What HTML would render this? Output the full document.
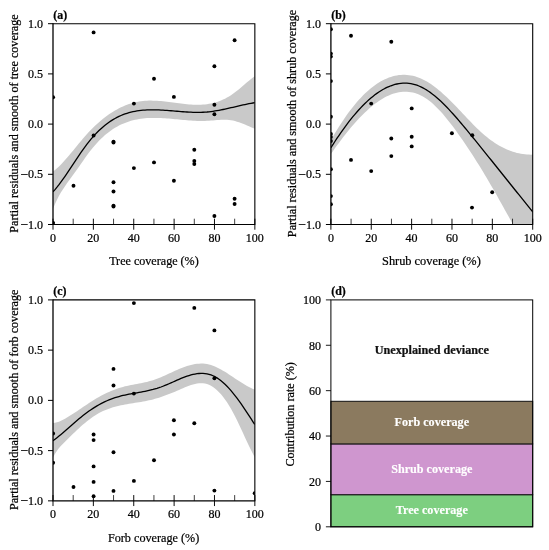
<!DOCTYPE html>
<html lang="en"><head><meta charset="utf-8"><title>Figure</title>
<style>html,body{margin:0;padding:0;background:#fff;}svg{display:block;}</style>
</head><body>
<svg width="549" height="550" viewBox="0 0 549 550" font-family='"Liberation Serif", "DejaVu Serif", serif'>
<rect width="549" height="550" fill="#fff"/>
<style>text{stroke:#000;stroke-width:0.22px;paint-order:stroke;} text.w{stroke:#fff;stroke-width:0.15px;}</style>
<clipPath id="clip1"><rect x="53.0" y="23.7" width="201.85" height="200.8"/></clipPath>
<path d="M53.00,171.52 L55.00,169.97 L57.00,168.26 L59.00,166.40 L61.00,164.41 L63.00,162.31 L65.00,160.10 L67.00,157.82 L69.00,155.47 L71.00,153.07 L73.00,150.64 L75.00,148.19 L77.00,145.73 L79.00,143.29 L81.00,140.88 L83.00,138.51 L85.00,136.20 L87.00,133.97 L89.00,131.82 L91.00,129.74 L93.00,127.73 L95.00,125.81 L97.00,123.95 L99.00,122.17 L101.00,120.47 L103.00,118.83 L105.00,117.27 L107.00,115.79 L109.00,114.37 L111.00,113.03 L113.00,111.75 L115.00,110.55 L117.00,109.42 L119.00,108.36 L121.00,107.37 L123.00,106.45 L125.00,105.60 L127.00,104.81 L129.00,104.10 L131.00,103.45 L133.00,102.88 L135.00,102.37 L137.00,101.92 L139.00,101.55 L141.00,101.24 L143.00,101.00 L145.00,100.82 L147.00,100.69 L149.00,100.62 L151.00,100.60 L153.00,100.63 L155.00,100.69 L157.00,100.80 L159.00,100.94 L161.00,101.10 L163.00,101.30 L165.00,101.52 L167.00,101.75 L169.00,102.00 L171.00,102.26 L173.00,102.52 L175.00,102.79 L177.00,103.06 L179.00,103.32 L181.00,103.57 L183.00,103.80 L185.00,104.02 L187.00,104.22 L189.00,104.39 L191.00,104.54 L193.00,104.65 L195.00,104.72 L197.00,104.75 L199.00,104.74 L201.00,104.68 L203.00,104.56 L205.00,104.39 L207.00,104.15 L209.00,103.86 L211.00,103.49 L213.00,103.05 L215.00,102.53 L217.00,101.94 L219.00,101.25 L221.00,100.48 L223.00,99.62 L225.00,98.67 L227.00,97.61 L229.00,96.45 L231.00,95.19 L233.00,93.82 L235.00,92.34 L237.00,90.78 L239.00,89.15 L241.00,87.48 L243.00,85.77 L245.00,84.06 L247.00,82.36 L249.00,80.69 L251.00,79.06 L253.00,77.50 L254.70,76.24 L254.70,128.75 L253.00,128.02 L251.00,127.15 L249.00,126.27 L247.00,125.40 L245.00,124.55 L243.00,123.74 L241.00,122.98 L239.00,122.27 L237.00,121.63 L235.00,121.08 L233.00,120.62 L231.00,120.27 L229.00,120.02 L227.00,119.87 L225.00,119.80 L223.00,119.80 L221.00,119.85 L219.00,119.95 L217.00,120.08 L215.00,120.24 L213.00,120.40 L211.00,120.56 L209.00,120.70 L207.00,120.82 L205.00,120.90 L203.00,120.95 L201.00,120.96 L199.00,120.93 L197.00,120.88 L195.00,120.80 L193.00,120.69 L191.00,120.57 L189.00,120.42 L187.00,120.27 L185.00,120.09 L183.00,119.91 L181.00,119.72 L179.00,119.53 L177.00,119.33 L175.00,119.14 L173.00,118.95 L171.00,118.76 L169.00,118.59 L167.00,118.43 L165.00,118.28 L163.00,118.15 L161.00,118.04 L159.00,117.96 L157.00,117.90 L155.00,117.88 L153.00,117.88 L151.00,117.92 L149.00,118.00 L147.00,118.11 L145.00,118.27 L143.00,118.48 L141.00,118.74 L139.00,119.04 L137.00,119.40 L135.00,119.82 L133.00,120.30 L131.00,120.85 L129.00,121.45 L127.00,122.13 L125.00,122.88 L123.00,123.70 L121.00,124.61 L119.00,125.60 L117.00,126.67 L115.00,127.83 L113.00,129.09 L111.00,130.44 L109.00,131.89 L107.00,133.44 L105.00,135.10 L103.00,136.88 L101.00,138.76 L99.00,140.76 L97.00,142.88 L95.00,145.13 L93.00,147.50 L91.00,150.00 L89.00,152.61 L87.00,155.31 L85.00,158.09 L83.00,160.91 L81.00,163.77 L79.00,166.64 L77.00,169.50 L75.00,172.33 L73.00,175.12 L71.00,177.86 L69.00,180.58 L67.00,183.33 L65.00,186.16 L63.00,189.14 L61.00,192.33 L59.00,195.81 L57.00,199.66 L55.00,203.95 L53.00,208.76 Z" fill="#c9c9c9" clip-path="url(#clip1)"/>
<path d="M53.00,191.80 L55.00,189.57 L57.00,187.18 L59.00,184.64 L61.00,181.98 L63.00,179.21 L65.00,176.34 L67.00,173.41 L69.00,170.42 L71.00,167.40 L73.00,164.35 L75.00,161.31 L77.00,158.29 L79.00,155.31 L81.00,152.39 L83.00,149.53 L85.00,146.78 L87.00,144.13 L89.00,141.59 L91.00,139.16 L93.00,136.84 L95.00,134.63 L97.00,132.53 L99.00,130.54 L101.00,128.66 L103.00,126.89 L105.00,125.23 L107.00,123.67 L109.00,122.22 L111.00,120.87 L113.00,119.62 L115.00,118.46 L117.00,117.40 L119.00,116.42 L121.00,115.52 L123.00,114.71 L125.00,113.97 L127.00,113.30 L129.00,112.71 L131.00,112.18 L133.00,111.72 L135.00,111.31 L137.00,110.97 L139.00,110.67 L141.00,110.42 L143.00,110.22 L145.00,110.07 L147.00,109.95 L149.00,109.87 L151.00,109.83 L153.00,109.82 L155.00,109.84 L157.00,109.89 L159.00,109.96 L161.00,110.05 L163.00,110.16 L165.00,110.29 L167.00,110.43 L169.00,110.59 L171.00,110.75 L173.00,110.91 L175.00,111.08 L177.00,111.25 L179.00,111.42 L181.00,111.58 L183.00,111.74 L185.00,111.88 L187.00,112.01 L189.00,112.12 L191.00,112.22 L193.00,112.29 L195.00,112.34 L197.00,112.36 L199.00,112.36 L201.00,112.32 L203.00,112.24 L205.00,112.13 L207.00,111.98 L209.00,111.78 L211.00,111.55 L213.00,111.28 L215.00,110.98 L217.00,110.64 L219.00,110.28 L221.00,109.90 L223.00,109.50 L225.00,109.07 L227.00,108.64 L229.00,108.19 L231.00,107.73 L233.00,107.27 L235.00,106.80 L237.00,106.33 L239.00,105.87 L241.00,105.42 L243.00,104.97 L245.00,104.54 L247.00,104.12 L249.00,103.72 L251.00,103.34 L253.00,102.99 L254.70,102.71" fill="none" stroke="#000" stroke-width="1.3" stroke-linejoin="round" clip-path="url(#clip1)"/>
<circle cx="93.6" cy="32.4" r="1.95" fill="#000" clip-path="url(#clip1)"/>
<circle cx="53.1" cy="97.2" r="1.95" fill="#000" clip-path="url(#clip1)"/>
<circle cx="133.9" cy="103.6" r="1.95" fill="#000" clip-path="url(#clip1)"/>
<circle cx="93.6" cy="135.5" r="1.95" fill="#000" clip-path="url(#clip1)"/>
<circle cx="113.5" cy="141.6" r="1.95" fill="#000" clip-path="url(#clip1)"/>
<circle cx="113.5" cy="142.6" r="1.95" fill="#000" clip-path="url(#clip1)"/>
<circle cx="133.9" cy="168.1" r="1.95" fill="#000" clip-path="url(#clip1)"/>
<circle cx="73.5" cy="185.7" r="1.95" fill="#000" clip-path="url(#clip1)"/>
<circle cx="113.5" cy="182.3" r="1.95" fill="#000" clip-path="url(#clip1)"/>
<circle cx="113.5" cy="191.5" r="1.95" fill="#000" clip-path="url(#clip1)"/>
<circle cx="113.5" cy="205.6" r="1.95" fill="#000" clip-path="url(#clip1)"/>
<circle cx="113.5" cy="206.6" r="1.95" fill="#000" clip-path="url(#clip1)"/>
<circle cx="53.1" cy="222.9" r="1.95" fill="#000" clip-path="url(#clip1)"/>
<circle cx="234.6" cy="40.3" r="1.95" fill="#000" clip-path="url(#clip1)"/>
<circle cx="214.4" cy="66.3" r="1.95" fill="#000" clip-path="url(#clip1)"/>
<circle cx="154.0" cy="78.8" r="1.95" fill="#000" clip-path="url(#clip1)"/>
<circle cx="173.9" cy="96.9" r="1.95" fill="#000" clip-path="url(#clip1)"/>
<circle cx="214.4" cy="104.8" r="1.95" fill="#000" clip-path="url(#clip1)"/>
<circle cx="214.4" cy="114.3" r="1.95" fill="#000" clip-path="url(#clip1)"/>
<circle cx="194.3" cy="149.7" r="1.95" fill="#000" clip-path="url(#clip1)"/>
<circle cx="194.3" cy="160.9" r="1.95" fill="#000" clip-path="url(#clip1)"/>
<circle cx="194.3" cy="164.0" r="1.95" fill="#000" clip-path="url(#clip1)"/>
<circle cx="154.0" cy="162.4" r="1.95" fill="#000" clip-path="url(#clip1)"/>
<circle cx="173.9" cy="180.8" r="1.95" fill="#000" clip-path="url(#clip1)"/>
<circle cx="234.6" cy="198.7" r="1.95" fill="#000" clip-path="url(#clip1)"/>
<circle cx="234.6" cy="204.0" r="1.95" fill="#000" clip-path="url(#clip1)"/>
<circle cx="214.4" cy="216.0" r="1.95" fill="#000" clip-path="url(#clip1)"/>
<path d="M53.0,23.7 H254.85 V224.5" fill="none" stroke="#000" stroke-width="1.1"/>
<path d="M53.0,23.3 V224.5" fill="none" stroke="#000" stroke-width="1.3"/>
<path d="M52.4,224.5 H255.25" fill="none" stroke="#000" stroke-width="1.1"/>
<line x1="53.00" y1="229.7" x2="53.00" y2="218.7" stroke="#000" stroke-width="0.95"/>
<text x="53.00" y="241.80" font-size="12.0" text-anchor="middle" fill="#000">0</text>
<line x1="73.19" y1="224.5" x2="73.19" y2="218.7" stroke="#000" stroke-width="0.75"/>
<line x1="93.37" y1="229.7" x2="93.37" y2="218.7" stroke="#000" stroke-width="0.95"/>
<text x="93.37" y="241.80" font-size="12.0" text-anchor="middle" fill="#000">20</text>
<line x1="113.55" y1="224.5" x2="113.55" y2="218.7" stroke="#000" stroke-width="0.75"/>
<line x1="133.74" y1="229.7" x2="133.74" y2="218.7" stroke="#000" stroke-width="0.95"/>
<text x="133.74" y="241.80" font-size="12.0" text-anchor="middle" fill="#000">40</text>
<line x1="153.93" y1="224.5" x2="153.93" y2="218.7" stroke="#000" stroke-width="0.75"/>
<line x1="174.11" y1="229.7" x2="174.11" y2="218.7" stroke="#000" stroke-width="0.95"/>
<text x="174.11" y="241.80" font-size="12.0" text-anchor="middle" fill="#000">60</text>
<line x1="194.30" y1="224.5" x2="194.30" y2="218.7" stroke="#000" stroke-width="0.75"/>
<line x1="214.48" y1="229.7" x2="214.48" y2="218.7" stroke="#000" stroke-width="0.95"/>
<text x="214.48" y="241.80" font-size="12.0" text-anchor="middle" fill="#000">80</text>
<line x1="234.66" y1="224.5" x2="234.66" y2="218.7" stroke="#000" stroke-width="0.75"/>
<line x1="254.85" y1="229.7" x2="254.85" y2="218.7" stroke="#000" stroke-width="0.95"/>
<text x="254.85" y="241.80" font-size="12.0" text-anchor="middle" fill="#000">100</text>
<line x1="53.0" y1="23.70" x2="48.0" y2="23.70" stroke="#000" stroke-width="1"/>
<text x="43.10" y="27.70" font-size="12.0" text-anchor="end" fill="#000">1.0</text>
<line x1="53.0" y1="73.90" x2="48.0" y2="73.90" stroke="#000" stroke-width="1"/>
<text x="43.10" y="77.90" font-size="12.0" text-anchor="end" fill="#000">0.5</text>
<line x1="53.0" y1="124.10" x2="48.0" y2="124.10" stroke="#000" stroke-width="1"/>
<text x="43.10" y="128.10" font-size="12.0" text-anchor="end" fill="#000">0.0</text>
<line x1="53.0" y1="174.30" x2="48.0" y2="174.30" stroke="#000" stroke-width="1"/>
<text x="43.10" y="178.30" font-size="12.0" text-anchor="end" fill="#000"><tspan font-size="13.6" dy="0.5">−</tspan><tspan dy="-0.5">0.5</tspan></text>
<line x1="53.0" y1="224.50" x2="48.0" y2="224.50" stroke="#000" stroke-width="1"/>
<text x="43.10" y="228.50" font-size="12.0" text-anchor="end" fill="#000"><tspan font-size="13.6" dy="0.5">−</tspan><tspan dy="-0.5">1.0</tspan></text>
<text x="53.30" y="18.60" font-size="11.9" font-weight="bold" fill="#000">(a)</text>
<text transform="translate(18.10,123.50) rotate(-90)" font-size="12.15" text-anchor="middle" fill="#000">Partial residuals and smooth of tree coverage</text>
<text x="153.93" y="265.30" font-size="12.1" text-anchor="middle" fill="#000">Tree coverage (%)</text>
<clipPath id="clip2"><rect x="330.9" y="23.7" width="201.80000000000007" height="200.8"/></clipPath>
<path d="M330.90,140.28 L332.90,136.76 L334.90,133.35 L336.90,130.03 L338.90,126.80 L340.90,123.67 L342.90,120.64 L344.90,117.70 L346.90,114.85 L348.90,112.11 L350.90,109.46 L352.90,106.90 L354.90,104.45 L356.90,102.09 L358.90,99.82 L360.90,97.66 L362.90,95.59 L364.90,93.61 L366.90,91.74 L368.90,89.96 L370.90,88.28 L372.90,86.70 L374.90,85.22 L376.90,83.83 L378.90,82.55 L380.90,81.36 L382.90,80.27 L384.90,79.28 L386.90,78.38 L388.90,77.59 L390.90,76.90 L392.90,76.30 L394.90,75.81 L396.90,75.41 L398.90,75.12 L400.90,74.92 L402.90,74.82 L404.90,74.83 L406.90,74.93 L408.90,75.14 L410.90,75.45 L412.90,75.85 L414.90,76.36 L416.90,76.97 L418.90,77.68 L420.90,78.49 L422.90,79.40 L424.90,80.42 L426.90,81.54 L428.90,82.75 L430.90,84.06 L432.90,85.46 L434.90,86.95 L436.90,88.51 L438.90,90.15 L440.90,91.86 L442.90,93.63 L444.90,95.46 L446.90,97.34 L448.90,99.27 L450.90,101.24 L452.90,103.25 L454.90,105.30 L456.90,107.36 L458.90,109.45 L460.90,111.56 L462.90,113.68 L464.90,115.80 L466.90,117.91 L468.90,120.01 L470.90,122.09 L472.90,124.14 L474.90,126.16 L476.90,128.13 L478.90,130.05 L480.90,131.92 L482.90,133.71 L484.90,135.43 L486.90,137.08 L488.90,138.65 L490.90,140.15 L492.90,141.57 L494.90,142.92 L496.90,144.20 L498.90,145.40 L500.90,146.52 L502.90,147.57 L504.90,148.55 L506.90,149.45 L508.90,150.29 L510.90,151.04 L512.90,151.73 L514.90,152.34 L516.90,152.88 L518.90,153.35 L520.90,153.74 L522.90,154.06 L524.90,154.31 L526.90,154.49 L528.90,154.60 L530.90,154.63 L532.90,154.60 L533.00,154.59 L533.00,260.02 L532.90,259.85 L530.90,256.39 L528.90,252.90 L526.90,249.38 L524.90,245.84 L522.90,242.28 L520.90,238.71 L518.90,235.12 L516.90,231.52 L514.90,227.92 L512.90,224.31 L510.90,220.70 L508.90,217.09 L506.90,213.48 L504.90,209.88 L502.90,206.30 L500.90,202.72 L498.90,199.16 L496.90,195.62 L494.90,192.10 L492.90,188.61 L490.90,185.14 L488.90,181.71 L486.90,178.31 L484.90,174.94 L482.90,171.62 L480.90,168.34 L478.90,165.09 L476.90,161.89 L474.90,158.73 L472.90,155.62 L470.90,152.54 L468.90,149.50 L466.90,146.50 L464.90,143.54 L462.90,140.62 L460.90,137.73 L458.90,134.89 L456.90,132.09 L454.90,129.33 L452.90,126.62 L450.90,123.98 L448.90,121.40 L446.90,118.89 L444.90,116.46 L442.90,114.11 L440.90,111.85 L438.90,109.69 L436.90,107.63 L434.90,105.67 L432.90,103.83 L430.90,102.11 L428.90,100.51 L426.90,99.05 L424.90,97.72 L422.90,96.53 L420.90,95.48 L418.90,94.56 L416.90,93.77 L414.90,93.11 L412.90,92.58 L410.90,92.18 L408.90,91.90 L406.90,91.74 L404.90,91.70 L402.90,91.77 L400.90,91.96 L398.90,92.26 L396.90,92.68 L394.90,93.20 L392.90,93.82 L390.90,94.55 L388.90,95.39 L386.90,96.32 L384.90,97.35 L382.90,98.47 L380.90,99.69 L378.90,100.99 L376.90,102.39 L374.90,103.87 L372.90,105.44 L370.90,107.09 L368.90,108.82 L366.90,110.63 L364.90,112.51 L362.90,114.46 L360.90,116.49 L358.90,118.59 L356.90,120.75 L354.90,122.98 L352.90,125.27 L350.90,127.62 L348.90,130.03 L346.90,132.50 L344.90,135.02 L342.90,137.59 L340.90,140.21 L338.90,142.88 L336.90,145.60 L334.90,148.35 L332.90,151.15 L330.90,153.99 Z" fill="#c9c9c9" clip-path="url(#clip2)"/>
<path d="M330.90,147.75 L332.90,144.60 L334.90,141.51 L336.90,138.48 L338.90,135.52 L340.90,132.62 L342.90,129.79 L344.90,127.03 L346.90,124.34 L348.90,121.72 L350.90,119.18 L352.90,116.71 L354.90,114.31 L356.90,112.00 L358.90,109.76 L360.90,107.60 L362.90,105.52 L364.90,103.53 L366.90,101.62 L368.90,99.80 L370.90,98.06 L372.90,96.41 L374.90,94.85 L376.90,93.38 L378.90,92.01 L380.90,90.72 L382.90,89.54 L384.90,88.45 L386.90,87.45 L388.90,86.56 L390.90,85.77 L392.90,85.08 L394.90,84.49 L396.90,84.00 L398.90,83.63 L400.90,83.36 L402.90,83.20 L404.90,83.15 L406.90,83.21 L408.90,83.38 L410.90,83.67 L412.90,84.07 L414.90,84.59 L416.90,85.23 L418.90,85.99 L420.90,86.86 L422.90,87.85 L424.90,88.96 L426.90,90.17 L428.90,91.48 L430.90,92.90 L432.90,94.41 L434.90,96.01 L436.90,97.70 L438.90,99.48 L440.90,101.33 L442.90,103.26 L444.90,105.25 L446.90,107.30 L448.90,109.41 L450.90,111.57 L452.90,113.77 L454.90,116.02 L456.90,118.30 L458.90,120.62 L460.90,122.97 L462.90,125.35 L464.90,127.75 L466.90,130.17 L468.90,132.60 L470.90,135.05 L472.90,137.50 L474.90,139.95 L476.90,142.42 L478.90,144.89 L480.90,147.36 L482.90,149.84 L484.90,152.32 L486.90,154.80 L488.90,157.29 L490.90,159.78 L492.90,162.27 L494.90,164.77 L496.90,167.26 L498.90,169.76 L500.90,172.26 L502.90,174.76 L504.90,177.26 L506.90,179.75 L508.90,182.25 L510.90,184.75 L512.90,187.24 L514.90,189.74 L516.90,192.23 L518.90,194.71 L520.90,197.20 L522.90,199.68 L524.90,202.16 L526.90,204.63 L528.90,207.10 L530.90,209.56 L532.90,212.02 L533.00,212.14" fill="none" stroke="#000" stroke-width="1.3" stroke-linejoin="round" clip-path="url(#clip2)"/>
<circle cx="330.9" cy="29.3" r="1.95" fill="#000" clip-path="url(#clip2)"/>
<circle cx="351.0" cy="35.7" r="1.95" fill="#000" clip-path="url(#clip2)"/>
<circle cx="391.3" cy="41.8" r="1.95" fill="#000" clip-path="url(#clip2)"/>
<circle cx="330.9" cy="53.6" r="1.95" fill="#000" clip-path="url(#clip2)"/>
<circle cx="330.9" cy="56.6" r="1.95" fill="#000" clip-path="url(#clip2)"/>
<circle cx="330.9" cy="81.1" r="1.95" fill="#000" clip-path="url(#clip2)"/>
<circle cx="371.2" cy="103.6" r="1.95" fill="#000" clip-path="url(#clip2)"/>
<circle cx="411.7" cy="108.4" r="1.95" fill="#000" clip-path="url(#clip2)"/>
<circle cx="330.9" cy="116.8" r="1.95" fill="#000" clip-path="url(#clip2)"/>
<circle cx="330.9" cy="133.9" r="1.95" fill="#000" clip-path="url(#clip2)"/>
<circle cx="330.9" cy="137.0" r="1.95" fill="#000" clip-path="url(#clip2)"/>
<circle cx="330.9" cy="141.0" r="1.95" fill="#000" clip-path="url(#clip2)"/>
<circle cx="391.3" cy="138.5" r="1.95" fill="#000" clip-path="url(#clip2)"/>
<circle cx="411.7" cy="136.7" r="1.95" fill="#000" clip-path="url(#clip2)"/>
<circle cx="411.7" cy="146.4" r="1.95" fill="#000" clip-path="url(#clip2)"/>
<circle cx="351.0" cy="159.9" r="1.95" fill="#000" clip-path="url(#clip2)"/>
<circle cx="391.3" cy="156.1" r="1.95" fill="#000" clip-path="url(#clip2)"/>
<circle cx="371.2" cy="171.1" r="1.95" fill="#000" clip-path="url(#clip2)"/>
<circle cx="330.9" cy="169.3" r="1.95" fill="#000" clip-path="url(#clip2)"/>
<circle cx="330.9" cy="196.1" r="1.95" fill="#000" clip-path="url(#clip2)"/>
<circle cx="330.9" cy="204.3" r="1.95" fill="#000" clip-path="url(#clip2)"/>
<circle cx="451.9" cy="133.2" r="1.95" fill="#000" clip-path="url(#clip2)"/>
<circle cx="472.3" cy="135.2" r="1.95" fill="#000" clip-path="url(#clip2)"/>
<circle cx="492.2" cy="192.3" r="1.95" fill="#000" clip-path="url(#clip2)"/>
<circle cx="472.0" cy="207.6" r="1.95" fill="#000" clip-path="url(#clip2)"/>
<path d="M330.9,23.7 H532.7 V224.5" fill="none" stroke="#000" stroke-width="1.1"/>
<path d="M330.9,23.3 V224.5" fill="none" stroke="#000" stroke-width="1.3"/>
<path d="M330.29999999999995,224.5 H533.1" fill="none" stroke="#000" stroke-width="1.1"/>
<line x1="330.90" y1="229.7" x2="330.90" y2="218.7" stroke="#000" stroke-width="0.95"/>
<text x="330.90" y="241.80" font-size="12.0" text-anchor="middle" fill="#000">0</text>
<line x1="351.08" y1="224.5" x2="351.08" y2="218.7" stroke="#000" stroke-width="0.75"/>
<line x1="371.26" y1="229.7" x2="371.26" y2="218.7" stroke="#000" stroke-width="0.95"/>
<text x="371.26" y="241.80" font-size="12.0" text-anchor="middle" fill="#000">20</text>
<line x1="391.44" y1="224.5" x2="391.44" y2="218.7" stroke="#000" stroke-width="0.75"/>
<line x1="411.62" y1="229.7" x2="411.62" y2="218.7" stroke="#000" stroke-width="0.95"/>
<text x="411.62" y="241.80" font-size="12.0" text-anchor="middle" fill="#000">40</text>
<line x1="431.80" y1="224.5" x2="431.80" y2="218.7" stroke="#000" stroke-width="0.75"/>
<line x1="451.98" y1="229.7" x2="451.98" y2="218.7" stroke="#000" stroke-width="0.95"/>
<text x="451.98" y="241.80" font-size="12.0" text-anchor="middle" fill="#000">60</text>
<line x1="472.16" y1="224.5" x2="472.16" y2="218.7" stroke="#000" stroke-width="0.75"/>
<line x1="492.34" y1="229.7" x2="492.34" y2="218.7" stroke="#000" stroke-width="0.95"/>
<text x="492.34" y="241.80" font-size="12.0" text-anchor="middle" fill="#000">80</text>
<line x1="512.52" y1="224.5" x2="512.52" y2="218.7" stroke="#000" stroke-width="0.75"/>
<line x1="532.70" y1="229.7" x2="532.70" y2="218.7" stroke="#000" stroke-width="0.95"/>
<text x="532.70" y="241.80" font-size="12.0" text-anchor="middle" fill="#000">100</text>
<line x1="330.9" y1="23.70" x2="325.9" y2="23.70" stroke="#000" stroke-width="1"/>
<text x="321.00" y="27.70" font-size="12.0" text-anchor="end" fill="#000">1.0</text>
<line x1="330.9" y1="73.90" x2="325.9" y2="73.90" stroke="#000" stroke-width="1"/>
<text x="321.00" y="77.90" font-size="12.0" text-anchor="end" fill="#000">0.5</text>
<line x1="330.9" y1="124.10" x2="325.9" y2="124.10" stroke="#000" stroke-width="1"/>
<text x="321.00" y="128.10" font-size="12.0" text-anchor="end" fill="#000">0.0</text>
<line x1="330.9" y1="174.30" x2="325.9" y2="174.30" stroke="#000" stroke-width="1"/>
<text x="321.00" y="178.30" font-size="12.0" text-anchor="end" fill="#000"><tspan font-size="13.6" dy="0.5">−</tspan><tspan dy="-0.5">0.5</tspan></text>
<line x1="330.9" y1="224.50" x2="325.9" y2="224.50" stroke="#000" stroke-width="1"/>
<text x="321.00" y="228.50" font-size="12.0" text-anchor="end" fill="#000"><tspan font-size="13.6" dy="0.5">−</tspan><tspan dy="-0.5">1.0</tspan></text>
<text x="331.20" y="18.60" font-size="11.9" font-weight="bold" fill="#000">(b)</text>
<text transform="translate(296.00,123.50) rotate(-90)" font-size="12.15" text-anchor="middle" fill="#000">Partial residuals and smooth of shrub coverage</text>
<text x="431.40" y="265.30" font-size="12.35" text-anchor="middle" fill="#000">Shrub coverage (%)</text>
<clipPath id="clip3"><rect x="53.0" y="299.9" width="201.85" height="200.95000000000005"/></clipPath>
<path d="M53.00,423.05 L55.00,422.81 L57.00,422.32 L59.00,421.63 L61.00,420.76 L63.00,419.76 L65.00,418.66 L67.00,417.51 L69.00,416.30 L71.00,415.06 L73.00,413.78 L75.00,412.47 L77.00,411.14 L79.00,409.79 L81.00,408.44 L83.00,407.08 L85.00,405.73 L87.00,404.39 L89.00,403.07 L91.00,401.77 L93.00,400.51 L95.00,399.28 L97.00,398.09 L99.00,396.95 L101.00,395.86 L103.00,394.81 L105.00,393.81 L107.00,392.85 L109.00,391.94 L111.00,391.08 L113.00,390.26 L115.00,389.49 L117.00,388.77 L119.00,388.10 L121.00,387.47 L123.00,386.89 L125.00,386.36 L127.00,385.88 L129.00,385.44 L131.00,385.03 L133.00,384.64 L135.00,384.27 L137.00,383.90 L139.00,383.54 L141.00,383.16 L143.00,382.76 L145.00,382.34 L147.00,381.88 L149.00,381.37 L151.00,380.81 L153.00,380.19 L155.00,379.51 L157.00,378.77 L159.00,377.99 L161.00,377.16 L163.00,376.30 L165.00,375.41 L167.00,374.51 L169.00,373.60 L171.00,372.68 L173.00,371.77 L175.00,370.86 L177.00,369.98 L179.00,369.12 L181.00,368.30 L183.00,367.52 L185.00,366.79 L187.00,366.11 L189.00,365.49 L191.00,364.95 L193.00,364.48 L195.00,364.10 L197.00,363.82 L199.00,363.63 L201.00,363.55 L203.00,363.59 L205.00,363.74 L207.00,364.03 L209.00,364.46 L211.00,365.02 L213.00,365.71 L215.00,366.51 L217.00,367.41 L219.00,368.41 L221.00,369.49 L223.00,370.64 L225.00,371.85 L227.00,373.11 L229.00,374.40 L231.00,375.73 L233.00,377.06 L235.00,378.41 L237.00,379.74 L239.00,381.06 L241.00,382.36 L243.00,383.61 L245.00,384.81 L247.00,385.96 L249.00,387.03 L251.00,388.01 L253.00,388.91 L254.70,389.58 L254.70,457.21 L253.00,454.01 L251.00,450.05 L249.00,445.94 L247.00,441.71 L245.00,437.42 L243.00,433.09 L241.00,428.78 L239.00,424.52 L237.00,420.36 L235.00,416.33 L233.00,412.49 L231.00,408.86 L229.00,405.47 L227.00,402.33 L225.00,399.42 L223.00,396.75 L221.00,394.33 L219.00,392.14 L217.00,390.19 L215.00,388.49 L213.00,387.03 L211.00,385.80 L209.00,384.82 L207.00,384.08 L205.00,383.58 L203.00,383.29 L201.00,383.19 L199.00,383.27 L197.00,383.51 L195.00,383.90 L193.00,384.41 L191.00,385.02 L189.00,385.72 L187.00,386.50 L185.00,387.32 L183.00,388.18 L181.00,389.06 L179.00,389.93 L177.00,390.79 L175.00,391.64 L173.00,392.47 L171.00,393.29 L169.00,394.08 L167.00,394.85 L165.00,395.59 L163.00,396.31 L161.00,397.00 L159.00,397.65 L157.00,398.27 L155.00,398.85 L153.00,399.40 L151.00,399.90 L149.00,400.36 L147.00,400.78 L145.00,401.18 L143.00,401.55 L141.00,401.90 L139.00,402.23 L137.00,402.55 L135.00,402.87 L133.00,403.18 L131.00,403.50 L129.00,403.82 L127.00,404.16 L125.00,404.52 L123.00,404.91 L121.00,405.32 L119.00,405.76 L117.00,406.24 L115.00,406.77 L113.00,407.34 L111.00,407.96 L109.00,408.65 L107.00,409.39 L105.00,410.21 L103.00,411.09 L101.00,412.05 L99.00,413.10 L97.00,414.23 L95.00,415.46 L93.00,416.78 L91.00,418.19 L89.00,419.68 L87.00,421.25 L85.00,422.89 L83.00,424.59 L81.00,426.35 L79.00,428.16 L77.00,430.01 L75.00,431.90 L73.00,433.82 L71.00,435.76 L69.00,437.72 L67.00,439.69 L65.00,441.66 L63.00,443.65 L61.00,445.75 L59.00,448.06 L57.00,450.71 L55.00,453.81 L53.00,457.46 Z" fill="#c9c9c9" clip-path="url(#clip3)"/>
<path d="M53.00,440.82 L55.00,439.29 L57.00,437.71 L59.00,436.09 L61.00,434.42 L63.00,432.72 L65.00,430.99 L67.00,429.24 L69.00,427.49 L71.00,425.73 L73.00,423.98 L75.00,422.25 L77.00,420.53 L79.00,418.84 L81.00,417.19 L83.00,415.58 L85.00,414.02 L87.00,412.52 L89.00,411.07 L91.00,409.69 L93.00,408.37 L95.00,407.10 L97.00,405.90 L99.00,404.75 L101.00,403.66 L103.00,402.63 L105.00,401.67 L107.00,400.75 L109.00,399.90 L111.00,399.11 L113.00,398.37 L115.00,397.70 L117.00,397.08 L119.00,396.51 L121.00,395.98 L123.00,395.49 L125.00,395.04 L127.00,394.62 L129.00,394.22 L131.00,393.84 L133.00,393.48 L135.00,393.12 L137.00,392.77 L139.00,392.42 L141.00,392.06 L143.00,391.69 L145.00,391.30 L147.00,390.89 L149.00,390.46 L151.00,389.99 L153.00,389.49 L155.00,388.94 L157.00,388.35 L159.00,387.71 L161.00,387.01 L163.00,386.26 L165.00,385.46 L167.00,384.62 L169.00,383.75 L171.00,382.87 L173.00,381.97 L175.00,381.07 L177.00,380.19 L179.00,379.31 L181.00,378.47 L183.00,377.66 L185.00,376.89 L187.00,376.17 L189.00,375.52 L191.00,374.94 L193.00,374.43 L195.00,374.02 L197.00,373.70 L199.00,373.49 L201.00,373.39 L203.00,373.42 L205.00,373.58 L207.00,373.89 L209.00,374.35 L211.00,374.96 L213.00,375.75 L215.00,376.71 L217.00,377.86 L219.00,379.20 L221.00,380.72 L223.00,382.41 L225.00,384.26 L227.00,386.25 L229.00,388.39 L231.00,390.67 L233.00,393.07 L235.00,395.58 L237.00,398.19 L239.00,400.90 L241.00,403.70 L243.00,406.58 L245.00,409.52 L247.00,412.53 L249.00,415.58 L251.00,418.67 L253.00,421.79 L254.70,424.47" fill="none" stroke="#000" stroke-width="1.3" stroke-linejoin="round" clip-path="url(#clip3)"/>
<circle cx="133.9" cy="303.1" r="1.95" fill="#000" clip-path="url(#clip3)"/>
<circle cx="113.5" cy="368.9" r="1.95" fill="#000" clip-path="url(#clip3)"/>
<circle cx="113.5" cy="385.5" r="1.95" fill="#000" clip-path="url(#clip3)"/>
<circle cx="133.9" cy="393.6" r="1.95" fill="#000" clip-path="url(#clip3)"/>
<circle cx="53.1" cy="433.5" r="1.95" fill="#000" clip-path="url(#clip3)"/>
<circle cx="93.6" cy="434.5" r="1.95" fill="#000" clip-path="url(#clip3)"/>
<circle cx="93.6" cy="440.1" r="1.95" fill="#000" clip-path="url(#clip3)"/>
<circle cx="113.5" cy="452.3" r="1.95" fill="#000" clip-path="url(#clip3)"/>
<circle cx="53.1" cy="462.8" r="1.95" fill="#000" clip-path="url(#clip3)"/>
<circle cx="93.6" cy="466.4" r="1.95" fill="#000" clip-path="url(#clip3)"/>
<circle cx="133.9" cy="480.9" r="1.95" fill="#000" clip-path="url(#clip3)"/>
<circle cx="93.6" cy="481.9" r="1.95" fill="#000" clip-path="url(#clip3)"/>
<circle cx="73.5" cy="487.0" r="1.95" fill="#000" clip-path="url(#clip3)"/>
<circle cx="113.5" cy="490.9" r="1.95" fill="#000" clip-path="url(#clip3)"/>
<circle cx="93.6" cy="496.2" r="1.95" fill="#000" clip-path="url(#clip3)"/>
<circle cx="194.3" cy="307.9" r="1.95" fill="#000" clip-path="url(#clip3)"/>
<circle cx="214.4" cy="330.4" r="1.95" fill="#000" clip-path="url(#clip3)"/>
<circle cx="214.4" cy="378.3" r="1.95" fill="#000" clip-path="url(#clip3)"/>
<circle cx="173.9" cy="420.2" r="1.95" fill="#000" clip-path="url(#clip3)"/>
<circle cx="194.3" cy="423.3" r="1.95" fill="#000" clip-path="url(#clip3)"/>
<circle cx="173.9" cy="434.5" r="1.95" fill="#000" clip-path="url(#clip3)"/>
<circle cx="154.0" cy="460.3" r="1.95" fill="#000" clip-path="url(#clip3)"/>
<circle cx="214.4" cy="490.6" r="1.95" fill="#000" clip-path="url(#clip3)"/>
<circle cx="254.7" cy="493.2" r="1.95" fill="#000" clip-path="url(#clip3)"/>
<path d="M53.0,299.9 H254.85 V500.85" fill="none" stroke="#000" stroke-width="1.1"/>
<path d="M53.0,299.5 V500.85" fill="none" stroke="#000" stroke-width="1.3"/>
<path d="M52.4,500.85 H255.25" fill="none" stroke="#000" stroke-width="1.1"/>
<line x1="53.00" y1="506.05" x2="53.00" y2="495.05" stroke="#000" stroke-width="0.95"/>
<text x="53.00" y="518.15" font-size="12.0" text-anchor="middle" fill="#000">0</text>
<line x1="73.19" y1="500.85" x2="73.19" y2="495.05" stroke="#000" stroke-width="0.75"/>
<line x1="93.37" y1="506.05" x2="93.37" y2="495.05" stroke="#000" stroke-width="0.95"/>
<text x="93.37" y="518.15" font-size="12.0" text-anchor="middle" fill="#000">20</text>
<line x1="113.55" y1="500.85" x2="113.55" y2="495.05" stroke="#000" stroke-width="0.75"/>
<line x1="133.74" y1="506.05" x2="133.74" y2="495.05" stroke="#000" stroke-width="0.95"/>
<text x="133.74" y="518.15" font-size="12.0" text-anchor="middle" fill="#000">40</text>
<line x1="153.93" y1="500.85" x2="153.93" y2="495.05" stroke="#000" stroke-width="0.75"/>
<line x1="174.11" y1="506.05" x2="174.11" y2="495.05" stroke="#000" stroke-width="0.95"/>
<text x="174.11" y="518.15" font-size="12.0" text-anchor="middle" fill="#000">60</text>
<line x1="194.30" y1="500.85" x2="194.30" y2="495.05" stroke="#000" stroke-width="0.75"/>
<line x1="214.48" y1="506.05" x2="214.48" y2="495.05" stroke="#000" stroke-width="0.95"/>
<text x="214.48" y="518.15" font-size="12.0" text-anchor="middle" fill="#000">80</text>
<line x1="234.66" y1="500.85" x2="234.66" y2="495.05" stroke="#000" stroke-width="0.75"/>
<line x1="254.85" y1="506.05" x2="254.85" y2="495.05" stroke="#000" stroke-width="0.95"/>
<text x="254.85" y="518.15" font-size="12.0" text-anchor="middle" fill="#000">100</text>
<line x1="53.0" y1="299.90" x2="48.0" y2="299.90" stroke="#000" stroke-width="1"/>
<text x="43.10" y="303.90" font-size="12.0" text-anchor="end" fill="#000">1.0</text>
<line x1="53.0" y1="350.14" x2="48.0" y2="350.14" stroke="#000" stroke-width="1"/>
<text x="43.10" y="354.14" font-size="12.0" text-anchor="end" fill="#000">0.5</text>
<line x1="53.0" y1="400.38" x2="48.0" y2="400.38" stroke="#000" stroke-width="1"/>
<text x="43.10" y="404.38" font-size="12.0" text-anchor="end" fill="#000">0.0</text>
<line x1="53.0" y1="450.61" x2="48.0" y2="450.61" stroke="#000" stroke-width="1"/>
<text x="43.10" y="454.61" font-size="12.0" text-anchor="end" fill="#000"><tspan font-size="13.6" dy="0.5">−</tspan><tspan dy="-0.5">0.5</tspan></text>
<line x1="53.0" y1="500.85" x2="48.0" y2="500.85" stroke="#000" stroke-width="1"/>
<text x="43.10" y="504.85" font-size="12.0" text-anchor="end" fill="#000"><tspan font-size="13.6" dy="0.5">−</tspan><tspan dy="-0.5">1.0</tspan></text>
<text x="53.30" y="294.80" font-size="11.9" font-weight="bold" fill="#000">(c)</text>
<text transform="translate(18.10,399.77) rotate(-90)" font-size="12.15" text-anchor="middle" fill="#000">Partial residuals and smooth of forb coverage</text>
<text x="153.62" y="541.65" font-size="12.2" text-anchor="middle" fill="#000">Forb coverage (%)</text>
<rect x="330.9" y="494.7" width="201.80000000000007" height="32.099999999999966" fill="#7dcf80" stroke="#111" stroke-width="1"/>
<rect x="330.9" y="443.9" width="201.80000000000007" height="50.80000000000001" fill="#cf96cf" stroke="#111" stroke-width="1"/>
<rect x="330.9" y="401.3" width="201.80000000000007" height="42.599999999999966" fill="#8b7a5f" stroke="#111" stroke-width="1"/>
<rect x="330.9" y="299.9" width="201.80000000000007" height="226.89999999999998" fill="none" stroke="#000" stroke-width="1"/>
<line x1="330.9" y1="526.80" x2="325.9" y2="526.80" stroke="#000" stroke-width="0.9"/>
<text x="321.10" y="531.10" font-size="12.0" text-anchor="end" fill="#000">0</text>
<line x1="330.9" y1="481.42" x2="325.9" y2="481.42" stroke="#000" stroke-width="0.9"/>
<text x="321.10" y="485.72" font-size="12.0" text-anchor="end" fill="#000">20</text>
<line x1="330.9" y1="436.04" x2="325.9" y2="436.04" stroke="#000" stroke-width="0.9"/>
<text x="321.10" y="440.34" font-size="12.0" text-anchor="end" fill="#000">40</text>
<line x1="330.9" y1="390.66" x2="325.9" y2="390.66" stroke="#000" stroke-width="0.9"/>
<text x="321.10" y="394.96" font-size="12.0" text-anchor="end" fill="#000">60</text>
<line x1="330.9" y1="345.28" x2="325.9" y2="345.28" stroke="#000" stroke-width="0.9"/>
<text x="321.10" y="349.58" font-size="12.0" text-anchor="end" fill="#000">80</text>
<line x1="330.9" y1="299.90" x2="325.9" y2="299.90" stroke="#000" stroke-width="0.9"/>
<text x="321.10" y="304.20" font-size="12.0" text-anchor="end" fill="#000">100</text>
<text x="331.20" y="294.80" font-size="11.9" font-weight="bold" fill="#000">(d)</text>
<text x="431.80" y="354" font-size="12.2" font-weight="bold" text-anchor="middle" fill="#111">Unexplained deviance</text>
<text x="431.80" y="425.6" font-size="12.15" font-weight="bold" text-anchor="middle" fill="#fff" class="w">Forb coverage</text>
<text x="431.80" y="473" font-size="12.15" font-weight="bold" text-anchor="middle" fill="#fff" class="w">Shrub coverage</text>
<text x="431.80" y="513.5" font-size="12.15" font-weight="bold" text-anchor="middle" fill="#fff" class="w">Tree coverage</text>
<text transform="translate(293.70,414.35) rotate(-90)" font-size="12.15" text-anchor="middle" fill="#000">Contribution rate (%)</text>
</svg>
</body></html>
